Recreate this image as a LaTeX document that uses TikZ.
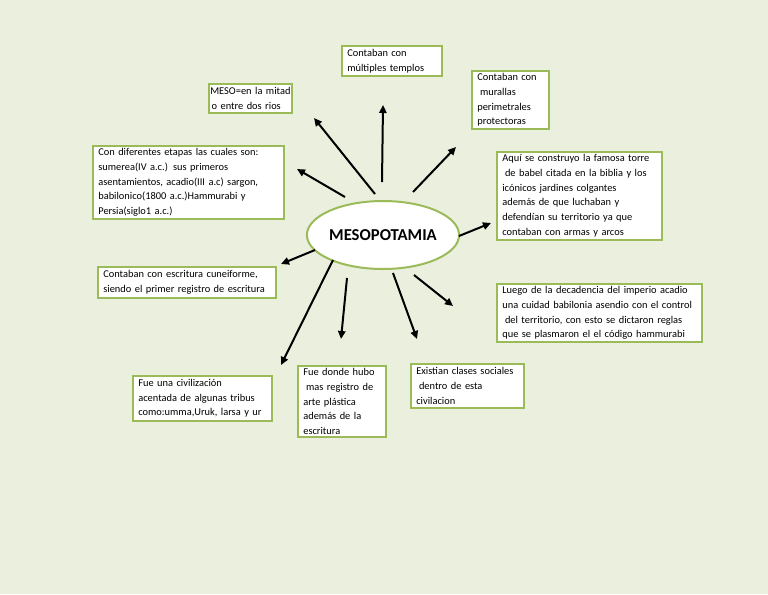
\documentclass[tikz,border=0pt]{standalone}
\usepackage{fontspec}
\setmainfont{Carlito}
\usetikzlibrary{arrows.meta, shapes.geometric, positioning}
\definecolor{fondo}{RGB}{235,239,222}
\definecolor{verde}{RGB}{155,187,89}
\hyphenpenalty=10000
\exhyphenpenalty=10000

\begin{document}
\begin{tikzpicture}[x=0.75pt,y=-0.75pt,
    caja/.style={draw=verde, line width=1.5pt, fill=white, anchor=north west, align=left,
      inner xsep=4pt, inner ysep=2pt, text width=#1, font=\fontsize{7.8}{11}\selectfont},
    centro/.style={ellipse, draw=verde, line width=1.5pt, fill=white, inner sep=0pt,
      minimum width=91pt, minimum height=51pt, font=\bfseries\fontsize{12.5}{14}\selectfont},
    flecha/.style={-{Triangle[length=6pt,width=5.5pt]}, line width=1.5pt}]

  \path[use as bounding box, fill=fondo] (0,0) rectangle (768,594);

  \node[centro] (meso) at (383,235) {MESOPOTAMIA};

  \node[caja=67pt, minimum height=22.5pt] (templos) at (341,45)
    {Contaban con\\múltiples templos};
  \node[caja=60.25pt, inner xsep=1pt, minimum height=21.75pt] (mitad) at (208,83)
    {\mbox{MESO=en la mitad}\\\hspace*{1pt}o entre dos rios};
  \node[caja=49.75pt, minimum height=43.5pt] (murallas) at (471,70)
    {Contaban con\\\hspace*{2pt}murallas\\perimetrales\\protectoras};
  \node[caja=135.25pt, minimum height=54.75pt] (etapas) at (92,145)
    {Con diferentes etapas las cuales son:\\sumerea(IV a.c.) sus primeros\\asentamientos, acadio(III a.c) sargon,\\babilonico(1800 a.c.)Hammurabi y\\Persia(siglo1 a.c.)};
  \node[caja=115.75pt, minimum height=65.25pt] (babel) at (496,151)
    {Aquí se construyo la famosa torre\\\hspace*{2pt}de babel citada en la biblia y los\\icónicos jardines colgantes\\además de que luchaban y\\defendían su territorio ya que\\contaban con armas y arcos};
  \node[caja=125.5pt, minimum height=23.25pt] (escritura) at (97,266)
    {Contaban con escritura cuneiforme,\\siendo el primer registro de escritura};
  \node[caja=145.75pt, minimum height=42.75pt] (hammurabi) at (496,283)
    {Luego de la decadencia del imperio acadio\\una cuidad babilonia asendio con el control\\\hspace*{2pt}del territorio, con esto se dictaron reglas\\que se plasmaron el el código hammurabi};
  \node[caja=96.25pt, minimum height=33.75pt] (tribus) at (132,375)
    {Fue una civilización\\acentada de algunas tribus\\como:umma,Uruk, larsa y ur};
  \node[caja=58pt, minimum height=53.25pt] (arte) at (297,365)
    {Fue donde hubo\\\hspace*{2pt}mas registro de\\arte plástica\\además de la\\escritura};
  \node[caja=76.75pt, minimum height=33pt] (clases) at (410,363)
    {Existian clases sociales\\\hspace*{2pt}dentro de esta\\civilacion};

  % flechas sueltas alrededor del centro
  \foreach \n/\xa/\ya/\xb/\yb in {templos/382/182/383/105, mitad/375/194/314/118,
      murallas/413/192/456/147, etapas/345/197/297/169, babel/459/236/491/223,
      escritura/315/250/281/264, tribus/333/260/281/365, arte/347/278/341/339,
      clases/393/273/417/339, hammurabi/414/275/453/306}
  {
    \coordinate (a-\n) at (\xa,\ya);
    \coordinate (b-\n) at (\xb,\yb);
    \draw[flecha] (a-\n) -- (b-\n);
  }
\end{tikzpicture}
\end{document}
